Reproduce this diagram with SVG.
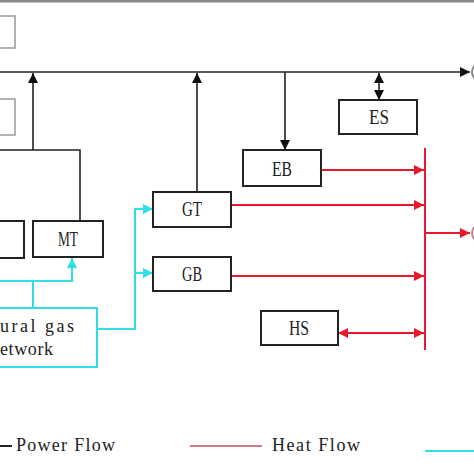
<svg xmlns="http://www.w3.org/2000/svg" width="474" height="474" viewBox="0 0 474 474">
<defs>
<marker id="ab" viewBox="0 0 10 10" refX="10" refY="5" markerWidth="11" markerHeight="10" markerUnits="userSpaceOnUse" orient="auto-start-reverse"><path d="M0,0 L10,5 L0,10 z" fill="#111"/></marker>
<marker id="ar" viewBox="0 0 10 10" refX="10" refY="5" markerWidth="11" markerHeight="10" markerUnits="userSpaceOnUse" orient="auto-start-reverse"><path d="M0,0 L10,5 L0,10 z" fill="#e8192c"/></marker>
<marker id="ac" viewBox="0 0 10 10" refX="10" refY="5" markerWidth="11" markerHeight="10" markerUnits="userSpaceOnUse" orient="auto-start-reverse"><path d="M0,0 L10,5 L0,10 z" fill="#2ee0e6"/></marker>
</defs>
<style>
.box{fill:#fff;stroke:#222;stroke-width:2}
.gbox{fill:#fff;stroke:#999;stroke-width:1.5}
.cbox{fill:#fff;stroke:#2ee0e6;stroke-width:2}
.lbl{font-family:"Liberation Serif","DejaVu Serif",serif;font-size:20px;fill:#222;text-anchor:middle}
.txt{font-family:"Liberation Serif","DejaVu Serif",serif;font-size:18px;fill:#222}
.p{stroke:#222;stroke-width:1.6;fill:none}
.h{stroke:#e8192c;stroke-width:2;fill:none}
.g{stroke:#2ee0e6;stroke-width:2;fill:none}
</style>
<rect width="474" height="474" fill="#fff"/>
<rect x="0" y="0" width="474" height="2.5" fill="#8a8a8a"/>
<g id="connectors">
<line class="p" x1="0" y1="72" x2="470" y2="72" marker-end="url(#ab)"/>
<polyline class="p" points="0,150 80,150 80,221"/>
<line class="p" x1="33" y1="150" x2="33" y2="73" marker-end="url(#ab)"/>
<line class="p" x1="197" y1="192" x2="197" y2="73" marker-end="url(#ab)"/>
<line class="p" x1="285" y1="72" x2="285" y2="150" marker-end="url(#ab)"/>
<line class="p" x1="379" y1="73" x2="379" y2="100" marker-start="url(#ab)" marker-end="url(#ab)"/>
<line class="h" x1="425" y1="148" x2="425" y2="350"/>
<line class="h" x1="321" y1="170" x2="424" y2="170" marker-end="url(#ar)"/>
<line class="h" x1="231" y1="205" x2="424" y2="205" marker-end="url(#ar)"/>
<line class="h" x1="231" y1="276" x2="424" y2="276" marker-end="url(#ar)"/>
<line class="h" x1="425" y1="233" x2="470" y2="233" marker-end="url(#ar)"/>
<line class="h" x1="338" y1="333" x2="424" y2="333" marker-start="url(#ar)" marker-end="url(#ar)"/>
<polyline class="g" points="0,281 72,281 72,258" marker-end="url(#ac)"/>
<line class="g" x1="33" y1="281" x2="33" y2="308"/>
<polyline class="g" points="97,329 135,329 135,209 153,209" marker-end="url(#ac)"/>
<line class="g" x1="135" y1="273" x2="153" y2="273" marker-end="url(#ac)"/>
</g>
<circle cx="481" cy="72" r="9" fill="#fff" stroke="#888" stroke-width="2"/>
<circle cx="481" cy="233" r="9" fill="#fff" stroke="#d87a8a" stroke-width="2"/>
<g id="box1"><rect class="gbox" x="-5" y="16" width="20" height="32"/></g>
<g id="box2"><rect class="gbox" x="-5" y="99" width="20" height="36"/></g>
<g id="box3"><rect class="box" x="-5" y="221" width="29" height="37"/></g>
<g id="MT"><rect class="box" x="33" y="221" width="70" height="36"/><text class="lbl" x="68" y="246" textLength="20" lengthAdjust="spacingAndGlyphs">MT</text></g>
<g id="GT"><rect class="box" x="153" y="192" width="78" height="35"/><text class="lbl" x="192" y="216" textLength="20" lengthAdjust="spacingAndGlyphs">GT</text></g>
<g id="GB"><rect class="box" x="153" y="257" width="78" height="34"/><text class="lbl" x="192" y="281" textLength="20" lengthAdjust="spacingAndGlyphs">GB</text></g>
<g id="EB"><rect class="box" x="243" y="150" width="78" height="36"/><text class="lbl" x="282" y="176" textLength="20" lengthAdjust="spacingAndGlyphs">EB</text></g>
<g id="ES"><rect class="box" x="339" y="100" width="78" height="34"/><text class="lbl" x="379" y="124" textLength="20" lengthAdjust="spacingAndGlyphs">ES</text></g>
<g id="HS"><rect class="box" x="261" y="311" width="77" height="34"/><text class="lbl" x="299" y="335" textLength="20" lengthAdjust="spacingAndGlyphs">HS</text></g>
<g id="NG"><rect class="cbox" x="-5" y="308" width="102" height="59"/>
<text class="txt" x="0" y="332" textLength="74" lengthAdjust="spacing">ural gas</text>
<text class="txt" x="0" y="355" textLength="53" lengthAdjust="spacing">etwork</text></g>
<g id="legend">
<line x1="0" y1="446" x2="12" y2="446" stroke="#222" stroke-width="2"/>
<text class="txt" x="16" y="451" textLength="99" lengthAdjust="spacing">Power Flow</text>
<line x1="190" y1="446" x2="262" y2="446" stroke="#c0505a" stroke-width="1.6"/>
<text class="txt" x="272" y="451" textLength="88" lengthAdjust="spacing">Heat Flow</text>
<line x1="425" y1="451" x2="474" y2="451" stroke="#2ee0e6" stroke-width="2"/>
</g>
</svg>
